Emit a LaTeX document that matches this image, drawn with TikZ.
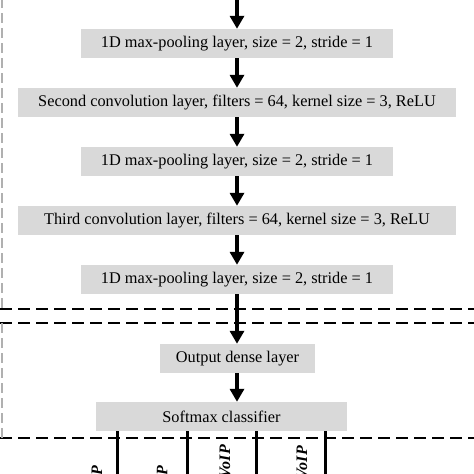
\documentclass[tikz,border=0pt]{standalone}
\usepackage{fontspec}
\setmainfont{Liberation Serif}
\usetikzlibrary{arrows.meta,calc}
\tikzset{
  layerbox/.style={fill=boxgray, draw=none, minimum height=29pt, inner sep=0pt, font=\fontsize{16.3}{18}\selectfont},
  flow/.style={line width=3.5pt, -{Triangle[width=14pt,length=13pt]}},
  sep/.style={line width=1.5pt, dash pattern=on 12pt off 6pt},
  gsep/.style={line width=2pt, draw=sidegray, dash pattern=on 10pt off 5pt},
  outline/.style={line width=3pt},
  lab/.style={rotate=90, anchor=east, inner sep=0pt, font=\fontsize{16}{18}\selectfont\bfseries\itshape}
}
\definecolor{boxgray}{HTML}{D9D9D9}
\definecolor{sidegray}{HTML}{B0B0B0}
\begin{document}
\begin{tikzpicture}[x=1pt,y=-1pt]
\useasboundingbox (0,0) rectangle (474,474);
\clip (0,0) rectangle (474,474);
\node[layerbox, minimum width=312pt] (p1) at (237,43.5) {1D max-pooling layer, size = 2, stride = 1};
\node[layerbox, minimum width=438pt] (c2) at (237,102.5) {Second convolution layer, filters = 64, kernel size = 3, ReLU};
\node[layerbox, minimum width=312pt] (p2) at (237,161.5) {1D max-pooling layer, size = 2, stride = 1};
\node[layerbox, minimum width=438pt] (c3) at (237,220.5) {Third convolution layer, filters = 64, kernel size = 3, ReLU};
\node[layerbox, minimum width=312pt] (p3) at (237,279.5) {1D max-pooling layer, size = 2, stride = 1};
\node[layerbox, minimum width=155pt] (od) at (237.5,358.5) {Output dense layer};
\node[layerbox, minimum width=251pt] (sm) at (221.5,416.5) {Softmax classifier};
% separators
\coordinate (sa1) at (0,309); \coordinate (sa2) at (474,309);
\coordinate (sb1) at (0,323); \coordinate (sb2) at (474,323);
\coordinate (sc1) at (0,438); \coordinate (sc2) at (474,438);
\draw[sep] (sa1) -- (sa2);
\draw[sep] (sb1) -- (sb2);
\draw[sep] (sc1) -- (sc2);
\coordinate (ga1) at (2,-2); \coordinate (ga2) at (2,309);
\coordinate (gb1) at (2,323); \coordinate (gb2) at (2,438);
\draw[gsep] (ga1) -- (ga2);
\draw[gsep] (gb1) -- (gb2);
% arrows
\coordinate (top) at (237,0);
\draw[flow] (top) -- (p1.north -| top);
\draw[flow] (p1.south -| top) -- (c2.north -| top);
\draw[flow] (c2.south -| top) -- (p2.north -| top);
\draw[flow] (p2.south -| top) -- (c3.north -| top);
\draw[flow] (c3.south -| top) -- (p3.north -| top);
\draw[flow] (p3.south -| top) -- (od.north -| top);
\draw[flow] (od.south -| top) -- (sm.north -| top);
% outputs
\coordinate (o1) at (117,476); \coordinate (o2) at (187,476);
\coordinate (o3) at (256,476); \coordinate (o4) at (325,476);
\draw[outline] (sm.south -| o1) -- (o1);
\draw[outline] (sm.south -| o2) -- (o2);
\draw[outline] (sm.south -| o3) -- (o3);
\draw[outline] (sm.south -| o4) -- (o4);
\node[lab] (l1) at (97,466) {Non-P2P};
\node[lab] (l2) at (162,466) {P2P};
\node[lab] (l3) at (225,445) {Non-VoIP};
\node[lab] (l4) at (302,446) {VoIP};
\end{tikzpicture}
\end{document}
